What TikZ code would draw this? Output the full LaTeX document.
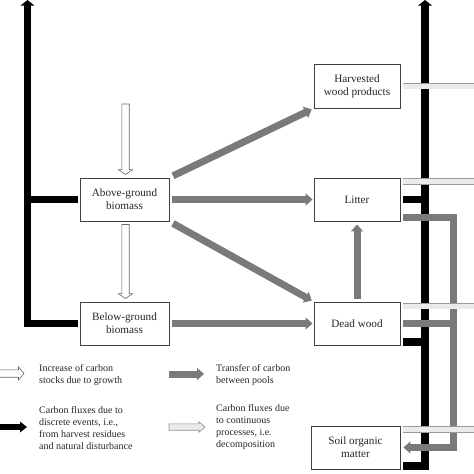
\documentclass[tikz,border=0pt]{standalone}
\usepackage{fontspec}
\setmainfont{Liberation Serif}
\usetikzlibrary{arrows.meta,calc}
\definecolor{hatchgrey}{HTML}{7A7A7A}
\definecolor{txt}{HTML}{262626}
\begin{document}
\begin{tikzpicture}[x=1pt,y=-1pt,
 pool/.style={draw=black!75, line width=0.9pt, fill=white, minimum width=89pt, minimum height=43pt, inner sep=0pt, align=center, font=\fontsize{11.2}{13.3}\selectfont, text=txt},
 legendtext/.style={anchor=west, align=left, inner sep=0pt, font=\fontsize{10}{12.1}\selectfont, text=txt},
 discrete/.style={draw=black, line width=7.5pt, line join=miter},
 discretetip/.style={-{Triangle[width=13.5pt,length=5.5pt]}},
 transferline/.style={draw=hatchgrey, line width=7pt, line join=miter},
 transfer/.style={transferline, -{Triangle[width=12pt,length=7pt]}},
 continuous/.style={draw=black!40, double=black!8, double distance=5pt, line width=0.6pt},
 growth/.style={draw=black!60, fill=white, line width=0.6pt, line join=miter},
 lightarrow/.style={draw=black!45, fill=black!8, line width=0.6pt, line join=miter}]
\useasboundingbox (0,0) rectangle (474,474);

% pools
\node[pool] (ag) at (124.5,199.5) {Above-ground\\biomass};
\node[pool] (bg) at (124.5,323.5) {Below-ground\\biomass};
\node[pool, minimum width=86pt, minimum height=44pt] (hwp) at (357,86) {Harvested\\wood products};
\node[pool, minimum width=86pt] (litter) at (357,199.5) {Litter};
\node[pool, minimum width=86pt] (dw) at (357,323.5) {Dead wood};
\node[pool] (som) at (355.5,447.5) {Soil organic\\matter};

\coordinate (ltop) at (27.5,0);
\coordinate (rtop) at (425,0);
\coordinate (hx) at (453.5,0);
\coordinate (redge) at (476,0);
\coordinate (g1) at (125.5,104);

% discrete fluxes (black)
\draw[discrete, discretetip] ($(bg.west)+(-2,0)$) -| (ltop);
\draw[discrete] ($(ag.west)+(-2,0)$) -- (ag.west -| ltop);
\draw[discrete, discretetip] ($(som.south east)+(3,-3.5)$) -| (rtop);
\draw[discrete] ($(litter.east)+(3,0)$) -- (litter.east -| rtop);
\draw[discrete] ($(dw.south east)+(3,-3.5)$) coordinate (dwb) -- (dwb -| rtop);

% growth
\draw[growth] let \p1=(g1), \p2=($(ag.north)+(1,-3)$) in
 (\x1-3.7pt,\y1) -- (\x1-3.7pt,\y2+5pt) -- (\x1-7.2pt,\y2+5pt) -- (\x1,\y2)
 -- (\x1+7.2pt,\y2+5pt) -- (\x1+3.7pt,\y2+5pt) -- (\x1+3.7pt,\y1) -- cycle;
\draw[growth] let \p1=($(ag.south)+(1,3)$), \p2=($(bg.north)+(1,-3)$) in
 (\x1-3.7pt,\y1) -- (\x1-3.7pt,\y2+5pt) -- (\x1-7.2pt,\y2+5pt) -- (\x1,\y2)
 -- (\x1+7.2pt,\y2+5pt) -- (\x1+3.7pt,\y2+5pt) -- (\x1+3.7pt,\y1) -- cycle;

% transfers
\draw[transfer, shorten <=4pt, shorten >=2pt] (ag.north east) -- (hwp.south west);
\draw[transfer, shorten <=3pt, shorten >=1pt] (ag.east) -- (litter.west);
\draw[transfer, shorten <=4pt, shorten >=2pt] (ag.south east) -- (dw.north west);
\draw[transfer, shorten <=3pt, shorten >=1pt] (bg.east) -- (dw.west);
\draw[transfer, shorten <=3pt, shorten >=3pt] (dw.north) -- (litter.south);
\draw[transfer] ($(litter.south east)+(3,-3.5)$) -| (som.east -| hx) -- ($(som.east)+(3,0)$);
\draw[transferline] ($(dw.east)+(3,0)$) -- (dw.east -| hx);

% continuous fluxes
\draw[continuous] ($(hwp.east)+(3,0)$) coordinate (c1) -- (c1 -| redge);
\draw[continuous] ($(litter.north east)+(3,4)$) coordinate (c2) -- (c2 -| redge);
\draw[continuous] ($(dw.north east)+(3,4.5)$) coordinate (c3) -- (c3 -| redge);
\draw[continuous] ($(som.north east)+(3,4)$) coordinate (c4) -- (c4 -| redge);

% legend
\draw[growth] (-2,369.8) -- (18.5,369.8) -- (18.5,367) -- (24,373.5) -- (18.5,380) -- (18.5,377.2) -- (-2,377.2) -- cycle;
\draw[transfer] (169,374) -- (204,374);
\draw[discrete, line width=6.5pt, -{Triangle[width=10.5pt,length=7pt]}] (-1,427) -- (27,427);
\draw[lightarrow] (169,423.8) -- (199,423.8) -- (199,421.8) -- (205,427) -- (199,432.2) -- (199,430.2) -- (169,430.2) -- cycle;

\node[legendtext] (l1) at (39,375) {Increase of carbon\\stocks due to growth};
\node[legendtext] (l2) at (216,375) {Transfer of carbon\\between pools};
\node[legendtext] (l3) at (39,428) {Carbon fluxes due to\\discrete events, i.e.,\\from harvest residues\\and natural disturbance};
\node[legendtext] (l4) at (216,427) {Carbon fluxes due\\to continuous\\processes, i.e.\\decomposition};
\end{tikzpicture}
\end{document}
